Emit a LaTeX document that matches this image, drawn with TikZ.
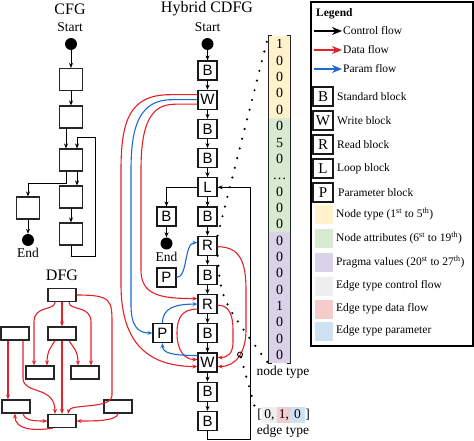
\documentclass[tikz,border=0pt]{standalone}
\usepackage{fontspec}
\setmainfont{Liberation Serif}
\newfontfamily\blkfont{Liberation Sans}
\usetikzlibrary{arrows.meta}

\definecolor{dfred}{RGB}{230,32,40}
\definecolor{pfblue}{RGB}{28,108,206}
\definecolor{ntyel}{RGB}{255,242,204}
\definecolor{nagrn}{RGB}{217,234,211}
\definecolor{pvpur}{RGB}{217,210,233}
\definecolor{etgray}{RGB}{238,238,238}
\definecolor{etpink}{RGB}{244,204,204}
\definecolor{etblue}{RGB}{207,226,243}

\begin{document}
\begin{tikzpicture}[x=1pt,y=-1pt,>={Stealth[length=5pt,width=4pt]}]
	\tikzstyle{title}=[inner sep=0pt,font=\fontsize{16}{18}\selectfont]
	\tikzstyle{lbl}=[inner sep=0pt,font=\fontsize{13.5}{15}\selectfont]
	\tikzstyle{term}=[circle,fill=black,minimum size=12pt,inner sep=0pt]
	\tikzstyle{cfgbox}=[draw=black!85,line width=1.2pt,minimum width=23pt,minimum height=22pt,inner sep=0pt]
	\tikzstyle{dfgbox}=[draw=black!85,line width=1.2pt,minimum width=28pt,minimum height=13pt,inner sep=0pt]
	\tikzstyle{blk}=[draw=black!90,line width=1.1pt,minimum size=19pt,inner sep=0pt,font=\blkfont\fontsize{15}{15}\selectfont]
	\tikzstyle{cedge}=[draw=black,line width=0.9pt,->]
	\tikzstyle{dedge}=[draw=dfred,line width=1.1pt,->]
	\tikzstyle{pedge}=[draw=pfblue,line width=1.1pt,->]
	\tikzstyle{featline}=[draw=black,line width=2.4pt,line cap=round,dash pattern=on 0pt off 10pt]
	\tikzstyle{ecirc}=[circle,draw=black,line width=0.9pt,minimum size=5pt,inner sep=0pt]
	\tikzstyle{vcell}=[minimum width=22pt,minimum height=16.35pt,inner sep=0pt,text height=9.5pt,text depth=0pt,font=\fontsize{14}{14}\selectfont]
	\tikzstyle{ecell}=[minimum width=14.5pt,minimum height=16pt,inner sep=0pt,text height=9.5pt,text depth=2.5pt,font=\fontsize{13.5}{14}\selectfont]
	\tikzstyle{vtxt}=[inner sep=0pt,text height=9.5pt,text depth=2.5pt,font=\fontsize{13.5}{14}\selectfont]
	\tikzstyle{brk}=[draw=black!85,line width=1pt]
	\tikzstyle{legtxt}=[anchor=west,inner sep=1pt,font=\fontsize{11.5}{13}\selectfont]
	\tikzstyle{legarrow}=[line width=1.3pt,-{Stealth[length=10pt,width=8pt]}]
	\tikzstyle{legblk}=[draw=black!90,line width=1.1pt,minimum width=20pt,minimum height=19pt,inner sep=0pt,font=\fontsize{15}{15}\selectfont]
	\tikzstyle{swatch}=[minimum width=18pt,minimum height=19pt,inner sep=0pt]

	\useasboundingbox (0,0) rectangle (474,441);

	% CFG
	\node [title] (cfgt) at (70,9) {CFG};
	\node [lbl] (cst) at (70,27) {Start};
	\node [term] (c0) at (71,44) {};
	\node [cfgbox] (c1) at (71,79.5) {};
	\node [cfgbox] (c2) at (71,117) {};
	\node [cfgbox] (c3) at (71,160) {};
	\node [cfgbox] (c4) at (28,208) {};
	\node [cfgbox] (c5) at (71,197) {};
	\node [cfgbox] (c6) at (71,234) {};
	\node [term] (ce) at (28,240) {};
	\node [lbl] (cend) at (28,253) {End};
	\coordinate (cl) at (95,137);

	\path[cedge] (c0) -- (c1);
	\path[cedge] (c1) -- (c2);
	\path[cedge] ([xshift=-5pt]c2.south) -- ([xshift=-5pt]c3.north);
	\path[cedge] ([xshift=-5pt]c3.south) -- ++(0,12) -| (c4.north);
	\path[cedge] ([xshift=6pt]c3.south) -- ([xshift=6pt]c5.north);
	\path[cedge] (c5) -- (c6);
	\path[cedge] (c6.south) -- ++(0,11) -| (cl) -| ([xshift=6pt]c3.north);
	\path[cedge] (c4) -- (ce);

	% DFG
	\node [title] (dfgt) at (62,275) {DFG};
	\node [dfgbox] (d1) at (62,295) {};
	\node [dfgbox] (d2) at (15,333.5) {};
	\node [dfgbox] (d3) at (62,333.5) {};
	\node [dfgbox] (d4) at (40,372.5) {};
	\node [dfgbox] (d5) at (85,372.5) {};
	\node [dfgbox] (d6) at (16,406.5) {};
	\node [dfgbox] (d7) at (118,406.5) {};
	\node [dfgbox] (d8) at (62,421) {};

	\path[dedge] (d1) -- (d3);
	\path[dedge] ([xshift=-7pt]d1.south) .. controls (55,311) and (34,305) .. (34,322) -- ([xshift=-6pt]d4.north);
	\path[dedge] ([xshift=7pt]d1.south) .. controls (69,311) and (91,305) .. (91,322) -- ([xshift=6pt]d5.north);
	\path[dedge] (d1.east) .. controls (112,295) and (112,300) .. (112,325) -- (112,395) .. controls (112,410) and (70,403) .. ([xshift=6pt]d8.north);
	\path[dedge] ([xshift=-7pt]d3.south) .. controls (52,346) and (47,350) .. ([xshift=7pt]d4.north);
	\path[dedge] ([xshift=7pt]d3.south) .. controls (72,346) and (78,350) .. ([xshift=-7pt]d5.north);
	\path[dedge] (d3) -- (d8);
	\path[dedge] ([xshift=-7pt]d2.south) -- ([xshift=-8pt]d6.north);
	\path[dedge] ([xshift=8pt]d2.south) -- (23,378) .. controls (23,395) and (55,385) .. ([xshift=-7pt]d8.north);
	\path[dedge] ([xshift=7pt]d6.south) .. controls (25,421) and (35,421) .. (d8.west);
	\path[dedge] ([xshift=-9pt]d8.south) .. controls (35,431) and (15,430) .. ([xshift=-1pt]d6.south);
	\path[dedge] (d7.south) .. controls (117,421) and (95,421) .. (d8.east);

	% Hybrid CDFG
	\node [title] (hyt) at (207,9) {Hybrid CDFG};
	\node [lbl] (hst) at (207.5,27) {Start};
	\node [term] (h0) at (207.5,44) {};
	\node [blk] (h1) at (207.5,70.5) {B};
	\node [blk] (h2) at (207.5,99.7) {W};
	\node [blk] (h3) at (207.5,128.9) {B};
	\node [blk] (h4) at (207.5,158.1) {B};
	\node [blk] (h5) at (207.5,187.3) {L};
	\node [blk] (h6) at (207.5,216.5) {B};
	\node [blk] (h7) at (207.5,245.7) {R};
	\node [blk] (h8) at (207.5,274.9) {B};
	\node [blk] (h9) at (207.5,304.1) {R};
	\node [blk] (h10) at (207.5,333.3) {B};
	\node [blk] (h11) at (207.5,362.5) {W};
	\node [blk] (h12) at (207.5,391.7) {B};
	\node [blk] (h13) at (207.5,420.9) {B};
	\node [blk] (h14) at (166.5,216.5) {B};
	\node [term] (h15) at (166.5,243.5) {};
	\node [lbl] (hend) at (166.5,256.5) {End};
	\node [blk] (h16) at (166.5,277.5) {P};
	\node [blk] (h17) at (162.5,333) {P};
	\coordinate (hl) at (250,187.3);

	\path[cedge] (h0) -- (h1);
	\path[cedge] (h1) -- (h2);
	\path[cedge] (h2) -- (h3);
	\path[cedge] (h3) -- (h4);
	\path[cedge] (h4) -- (h5);
	\path[cedge] (h5) -- (h6);
	\path[cedge] (h6) -- (h7);
	\path[cedge] (h7) -- (h8);
	\path[cedge] (h8) -- (h9);
	\path[cedge] (h9) -- (h10);
	\path[cedge] (h10) -- (h11);
	\path[cedge] (h11) -- (h12);
	\path[cedge] (h12) -- (h13);
	\path[cedge] (h5.west) -| (h14.north);
	\path[cedge] (h14) -- (h15);
	\path[cedge] (h13.south) -- ++(0,8) -| (hl) -- (h5.east);

	\path[dedge] ([yshift=5pt]h2.west) -- (170,94.7) .. controls (130,94.7) and (121,120) .. (121,170) -- (121,285) .. controls (121,345) and (150,366.5) .. ([yshift=-4pt]h11.west);
	\path[pedge] (h2.west) -- (172,99.7) .. controls (140,99.7) and (131,125) .. (131,170) -- (131,305) .. controls (131,326) and (138,333) .. (h17.west);
	\path[dedge] ([yshift=-4.5pt]h2.west) -- (175,104.2) .. controls (150,104.2) and (141,125) .. (141,170) -- (141,270) .. controls (141,295) and (160,298.6) .. ([yshift=5.5pt]h9.west);
	\path[pedge] (h16.east) .. controls (188,277.5) and (184,242.7) .. ([yshift=3pt]h7.west);
	\path[dedge] ([yshift=-1pt]h7.east) .. controls (240,246.7) and (246,262) .. (246,290) -- (246,330) .. controls (246,352) and (236,366.5) .. ([yshift=-4pt]h11.east) node [ecirc,pos=0.45] (ec) {};
	\path[dedge] ([yshift=-1pt]h9.east) .. controls (229,305) and (233,315) .. (233,330) -- (233,342) .. controls (233,353) and (228,357.5) .. ([yshift=5pt]h11.east);
	\path[dedge] ([yshift=-5pt]h9.west) .. controls (182,309) and (177,318) .. (177,333) .. controls (177,350) and (184,359.5) .. ([yshift=3pt]h11.west);
	\path[pedge] ([yshift=7pt]h11.west) .. controls (172,355.5) and (162.5,353) .. (h17.south);
	\path[pedge] (h17.north) .. controls (162.5,308) and (175,304.1) .. (h9.west);

	% node type vector
	\foreach \v/\c [count=\i] in {1/ntyel,0/ntyel,0/ntyel,0/ntyel,0/ntyel,0/nagrn,5/nagrn,0/nagrn,\dots/nagrn,0/nagrn,0/nagrn,0/nagrn,0/pvpur,0/pvpur,0/pvpur,0/pvpur,1/pvpur,0/pvpur,0/pvpur,0/pvpur}
		\node [vcell,fill=\c] (v\i) at (279.5,{27.85+16.35*\i}) {\v};
	\draw[brk] ([xshift=4pt]v1.north west) -- (v1.north west) -- (v20.south west) -- ([xshift=4pt]v20.south west);
	\draw[brk] ([xshift=-4pt]v1.north east) -- (v1.north east) -- (v20.south east) -- ([xshift=-4pt]v20.south east);
	\node [lbl] (ntl) at (283,372) {node type};

	% edge type vector
	\node [ecell,fill=etgray] (e1) at (269.5,415) {0,};
	\node [ecell,fill=etpink] (e2) at (284,415) {1,};
	\node [ecell,fill=etblue] (e3) at (297.5,415) {0};
	\node [vtxt] (el) at (259.5,415) {[};
	\node [vtxt] (er) at (307.5,415) {]};
	\node [lbl] (etl) at (283,431.5) {edge type};

	\path[featline] (h7.north east) -- (v1.north west);
	\path[featline] (h7.south east) .. controls (221,300) .. (v20.south west);
	\path[featline] (ec) -- (el.west);

	% legend
	\draw[line width=1.6pt] (311,2) rectangle (473,346);
	\node [legtxt,font=\fontsize{11.5}{13}\selectfont\bfseries] (lg) at (315,14) {Legend};
	\coordinate (la1) at (314,31);
	\coordinate (la2) at (314,50);
	\coordinate (la3) at (314,69);
	\node [legtxt] (lt1) at (342,31) {Control flow};
	\node [legtxt] (lt2) at (342,50) {Data flow};
	\node [legtxt] (lt3) at (342,69) {Param flow};
	\path[legarrow,draw=black] (la1) -- (lt1.west);
	\path[legarrow,draw=dfred] (la2) -- (lt2.west);
	\path[legarrow,draw=pfblue] (la3) -- (lt3.west);

	\node [legblk] (lb1) at (323,96.5) {B};
	\node [legblk] (lb2) at (323,120.5) {W};
	\node [legblk] (lb3) at (323,144.5) {R};
	\node [legblk] (lb4) at (323,168.5) {L};
	\node [legblk] (lb5) at (323,192.5) {P};
	\node [legtxt] (lbt1) at (336,96.5) {Standard block};
	\node [legtxt] (lbt2) at (336,120.5) {Write block};
	\node [legtxt] (lbt3) at (336,144.5) {Read block};
	\node [legtxt] (lbt4) at (336,168.5) {Loop block};
	\node [legtxt] (lbt5) at (337,192.5) {Parameter block};

	\node [swatch,fill=ntyel] (ls1) at (324,214) {};
	\node [swatch,fill=nagrn] (ls2) at (324,238) {};
	\node [swatch,fill=pvpur] (ls3) at (324,262) {};
	\node [swatch,fill=etgray] (ls4) at (324,286) {};
	\node [swatch,fill=etpink] (ls5) at (324,309) {};
	\node [swatch,fill=etblue] (ls6) at (324,331) {};
	\node [legtxt] (lst1) at (335,214) {Node type (1\textsuperscript{st} to 5\textsuperscript{th})};
	\node [legtxt] (lst2) at (335,238) {Node attributes (6\textsuperscript{st} to 19\textsuperscript{th})};
	\node [legtxt] (lst3) at (335,262) {Pragma values (20\textsuperscript{st} to 27\textsuperscript{th})};
	\node [legtxt] (lst4) at (335,286) {Edge type control flow};
	\node [legtxt] (lst5) at (335,309) {Edge type data flow};
	\node [legtxt] (lst6) at (335,331) {Edge type parameter};
\end{tikzpicture}
\end{document}
